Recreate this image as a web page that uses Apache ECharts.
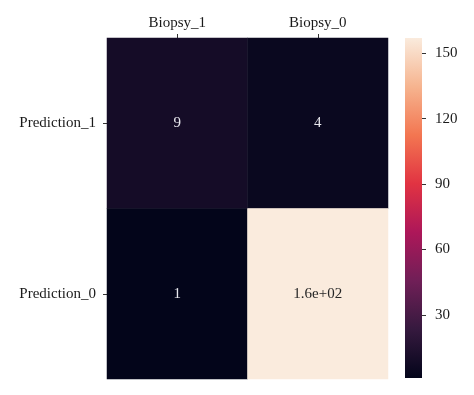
<!DOCTYPE html>
<html>
<head>
<meta charset="utf-8">
<script src="https://cdn.jsdelivr.net/npm/echarts@6/dist/echarts.min.js"></script>
<style>html,body{margin:0;padding:0;background:#fff;}#c{width:474px;height:395px;}</style>
</head>
<body>
<div id="c"></div>
<script>
var colLabels = ['Biopsy_1', 'Biopsy_0'];
var rowLabels = ['Prediction_1', 'Prediction_0'];
// matrix values [row][col]
var row1 = [9, 4];
var row0 = [1, 157];
var colorMin = 1;
var colorMax = 157;
var colorbarTicks = [30, 60, 90, 120, 150];
var rocket = ['#03051a', '#35193e', '#701f57', '#ad1759', '#e13342', '#f37651', '#f6b48f', '#faebdd'];

var FONT = '"Liberation Serif", "DejaVu Serif", serif';

function fmt2g(v) {
  if (Math.abs(v) >= 100) {
    var s = v.toExponential(1);
    var parts = s.split('e');
    var exp = parseInt(parts[1], 10);
    var sign = exp < 0 ? '-' : '+';
    var e = Math.abs(exp);
    return parts[0] + 'e' + sign + (e < 10 ? '0' + e : e);
  }
  return String(v);
}

var rows = [row1, row0];
var data = [];
rows.forEach(function (r, ri) {
  r.forEach(function (v, ci) {
    var t = (v - colorMin) / (colorMax - colorMin);
    data.push({
      value: [ci, ri, v],
      label: { color: t > 0.6 ? '#262626' : '#e8e8ee' }
    });
  });
});

var stops = rocket.map(function (c, i) { return { offset: i / (rocket.length - 1), color: c }; });

var chart = echarts.init(document.getElementById('c'));
chart.setOption({
  animation: false,
  backgroundColor: '#fff',
  grid: [
    { left: 107, right: 86, top: 38, bottom: 16 },
    { left: 405, width: 17, top: 38, bottom: 17 }
  ],
  xAxis: [
    {
      gridIndex: 0, type: 'category', data: colLabels, position: 'top',
      axisLine: { show: false },
      axisTick: { show: true, alignWithLabel: true, length: 4, lineStyle: { color: '#333', width: 1 } },
      axisLabel: { fontFamily: FONT, fontSize: 15, color: '#1a1a1a', margin: 7 },
      splitLine: { show: false }
    },
    {
      gridIndex: 1, type: 'category', data: [''], show: false
    }
  ],
  yAxis: [
    {
      gridIndex: 0, type: 'category', data: rowLabels, inverse: true,
      axisLine: { show: false },
      axisTick: { show: true, alignWithLabel: true, length: 4, lineStyle: { color: '#333', width: 1 } },
      axisLabel: { fontFamily: FONT, fontSize: 15, color: '#1a1a1a', margin: 11 },
      splitLine: { show: false }
    },
    {
      gridIndex: 1, type: 'value', min: colorMin, max: colorMax, position: 'right',
      axisLine: { show: false },
      axisTick: { show: true, length: 4, customValues: colorbarTicks, lineStyle: { color: '#333', width: 1 } },
      axisLabel: { fontFamily: FONT, fontSize: 15, color: '#1a1a1a', margin: 13, customValues: colorbarTicks },
      splitLine: { show: false }
    }
  ],
  visualMap: {
    show: false, min: colorMin, max: colorMax, seriesIndex: 0, dimension: 2,
    inRange: { color: rocket }
  },
  series: [
    {
      type: 'heatmap', xAxisIndex: 0, yAxisIndex: 0, data: data,
      itemStyle: { borderWidth: 0 },
      label: {
        show: true, fontFamily: FONT, fontSize: 15,
        formatter: function (p) { return fmt2g(p.value[2]); }
      },
      emphasis: { disabled: true }
    },
    {
      type: 'bar', xAxisIndex: 1, yAxisIndex: 1, data: [colorMax], barWidth: '100%',
      itemStyle: { color: new echarts.graphic.LinearGradient(0, 1, 0, 0, stops) },
      silent: true
    }
  ]
});
</script>
</body>
</html>
